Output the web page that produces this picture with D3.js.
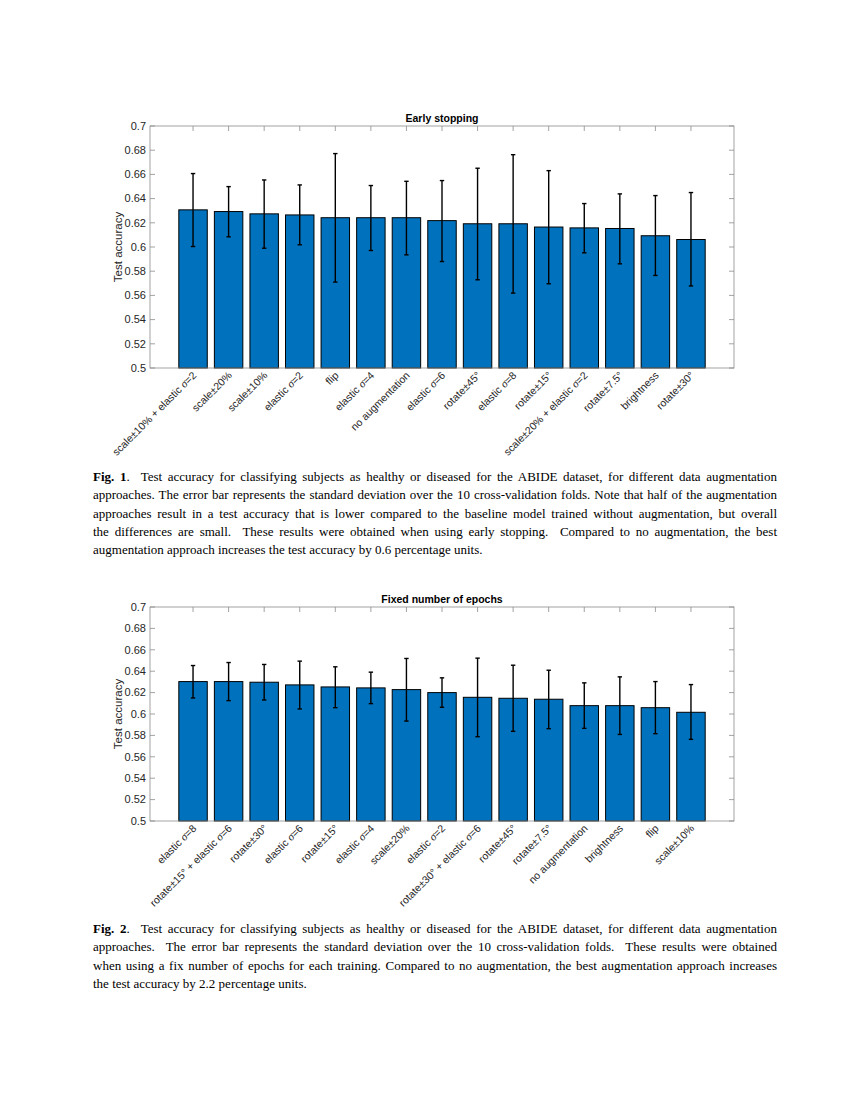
<!DOCTYPE html>
<html>
<head>
<meta charset="utf-8">
<script src="https://cdn.jsdelivr.net/npm/d3@7"></script>
<style>
  body { margin: 0; background: #fff; }
  svg { display: block; }
</style>
</head>
<body>
<svg id="page" width="850" height="1100"></svg>
<script>
// Fig. 1 - early stopping
const esLabels = ['scale±10% + elastic σ=2', 'scale±20%', 'scale±10%', 'elastic σ=2', 'flip',
    'elastic σ=4', 'no augmentation', 'elastic σ=6', 'rotate±45°', 'elastic σ=8', 'rotate±15°',
    'scale±20% + elastic σ=2', 'rotate±7.5°', 'brightness', 'rotate±30°'];
const esMean = [0.6307, 0.6293, 0.6274, 0.6265, 0.6242, 0.6242, 0.6242, 0.6218, 0.6192, 0.6192,
    0.6165, 0.6158, 0.6153, 0.6093, 0.6062];
const esUpper = [0.6607, 0.6499, 0.6554, 0.6513, 0.6772, 0.6508, 0.6543, 0.6549, 0.6651, 0.6763,
    0.6631, 0.6359, 0.6439, 0.6425, 0.6450];
const esLower = [0.6004, 0.6084, 0.5990, 0.6018, 0.5710, 0.5971, 0.5935, 0.5880, 0.5729, 0.5619,
    0.5696, 0.5952, 0.5861, 0.5765, 0.5678];

// Fig. 2 - fixed number of epochs
const feLabels = ['elastic σ=8', 'rotate±15° + elastic σ=6', 'rotate±30°', 'elastic σ=6', 'rotate±15°',
    'elastic σ=4', 'scale±20%', 'elastic σ=2', 'rotate±30° + elastic σ=6', 'rotate±45°', 'rotate±7.5°',
    'no augmentation', 'brightness', 'flip', 'scale±10%'];
const feMean = [0.6303, 0.6303, 0.6297, 0.6272, 0.6253, 0.6244, 0.6228, 0.6200, 0.6156, 0.6147,
    0.6138, 0.6078, 0.6078, 0.6059, 0.6016];
const feUpper = [0.6453, 0.6481, 0.6463, 0.6494, 0.6441, 0.6391, 0.6519, 0.6338, 0.6522, 0.6456,
    0.6409, 0.6291, 0.6347, 0.6303, 0.6275];
const feLower = [0.6150, 0.6125, 0.6131, 0.6047, 0.6059, 0.6097, 0.5934, 0.6063, 0.5788, 0.5838,
    0.5863, 0.5866, 0.5809, 0.5816, 0.5763];

const yTicks = [0.5, 0.52, 0.54, 0.56, 0.58, 0.6, 0.62, 0.64, 0.66, 0.68, 0.7];

const fig1Lines = [
    ['Fig. 1', '.  Test accuracy for classifying subjects as healthy or diseased for the ABIDE dataset, for different data augmentation'],
    ['', 'approaches. The error bar represents the standard deviation over the 10 cross-validation folds. Note that half of the augmentation'],
    ['', 'approaches result in a test accuracy that is lower compared to the baseline model trained without augmentation, but overall'],
    ['', 'the differences are small.  These results were obtained when using early stopping.  Compared to no augmentation, the best'],
    ['', 'augmentation approach increases the test accuracy by 0.6 percentage units.']
];
const fig2Lines = [
    ['Fig. 2', '.  Test accuracy for classifying subjects as healthy or diseased for the ABIDE dataset, for different data augmentation'],
    ['', 'approaches.  The error bar represents the standard deviation over the 10 cross-validation folds.  These results were obtained'],
    ['', 'when using a fix number of epochs for each training. Compared to no augmentation, the best augmentation approach increases'],
    ['', 'the test accuracy by 2.2 percentage units.']
];

const svg = d3.select('#page');
const sans = 'Helvetica, Arial, "Liberation Sans", sans-serif';
const serif = '"Times New Roman", "Liberation Serif", serif';
const axisColor = '#262626';

function drawChart(opts) {
    const left = 150, right = 734;
    const top = opts.top, bottom = opts.bottom;
    const n = opts.labels.length;

    const x = d3.scaleLinear().domain([-0.21, n + 1.21]).range([left, right]);
    const y = d3.scaleLinear().domain([0.5, 0.7]).range([bottom, top]);
    const barW = x(0.8) - x(0);

    const g = svg.append('g');

    // bars
    g.selectAll('rect.bar')
        .data(opts.mean)
        .enter()
        .append('rect')
        .attr('class', 'bar')
        .attr('x', (d, i) => x(i + 1) - barW / 2)
        .attr('y', d => y(d))
        .attr('width', barW)
        .attr('height', d => y(0.5) - y(d))
        .style('fill', '#0072BD')
        .style('stroke', '#000')
        .style('stroke-width', 1);

    // error bars
    const err = g.append('g')
        .selectAll('g')
        .data(opts.mean.map((m, i) => ({ i: i + 1, lo: opts.lower[i], hi: opts.upper[i] })))
        .enter()
        .append('g')
        .style('stroke', '#000')
        .style('stroke-width', 1.4);
    err.append('line')
        .attr('x1', d => x(d.i)).attr('x2', d => x(d.i))
        .attr('y1', d => y(d.lo)).attr('y2', d => y(d.hi));
    err.append('line')
        .attr('x1', d => x(d.i) - 2.2).attr('x2', d => x(d.i) + 2.2)
        .attr('y1', d => y(d.lo)).attr('y2', d => y(d.lo));
    err.append('line')
        .attr('x1', d => x(d.i) - 2.2).attr('x2', d => x(d.i) + 2.2)
        .attr('y1', d => y(d.hi)).attr('y2', d => y(d.hi));

    // box
    g.append('rect')
        .attr('x', left).attr('y', top)
        .attr('width', right - left).attr('height', bottom - top)
        .style('fill', 'none')
        .style('stroke', '#8c8c8c')
        .style('stroke-width', 0.8);

    // y ticks (inward, both sides)
    const tickLen = 5;
    const yt = g.append('g').selectAll('g').data(yTicks).enter().append('g');
    yt.append('line')
        .attr('x1', left).attr('x2', left + tickLen)
        .attr('y1', d => y(d)).attr('y2', d => y(d))
        .style('stroke', '#8c8c8c').style('stroke-width', 0.8);
    yt.append('line')
        .attr('x1', right).attr('x2', right - tickLen)
        .attr('y1', d => y(d)).attr('y2', d => y(d))
        .style('stroke', '#8c8c8c').style('stroke-width', 0.8);
    yt.append('text')
        .attr('x', left - 4)
        .attr('y', d => y(d) + 3.8)
        .attr('text-anchor', 'end')
        .style('font-family', sans)
        .style('font-size', '11px')
        .style('fill', axisColor)
        .text(d => d3.format('')(d));

    // x ticks (inward, top and bottom)
    const idx = d3.range(1, n + 1);
    const xt = g.append('g').selectAll('g').data(idx).enter().append('g');
    xt.append('line')
        .attr('x1', d => x(d)).attr('x2', d => x(d))
        .attr('y1', top).attr('y2', top + tickLen)
        .style('stroke', '#8c8c8c').style('stroke-width', 0.8);

    // x labels rotated 45 degrees
    const lbl = g.append('g').selectAll('text')
        .data(opts.labels)
        .enter()
        .append('text')
        .attr('text-anchor', 'end')
        .attr('transform', (d, i) => `translate(${x(i + 1) + 4},${bottom + 8}) rotate(-45)`)
        .style('font-family', sans)
        .style('font-size', '10.5px')
        .style('fill', axisColor);
    lbl.each(function(d) {
        const parts = d.split('σ');
        const t = d3.select(this);
        parts.forEach((p, k) => {
            if (k > 0) t.append('tspan').style('font-style', 'italic').style('font-family', serif).style('font-size', '11.5px').text('σ');
            t.append('tspan').text(p);
        });
    });

    // y label
    g.append('text')
        .attr('transform', `translate(${left - 28},${(top + bottom) / 2}) rotate(-90)`)
        .attr('text-anchor', 'middle')
        .style('font-family', sans)
        .style('font-size', '11.5px')
        .style('fill', axisColor)
        .text('Test accuracy');

    // title
    g.append('text')
        .attr('x', (left + right) / 2)
        .attr('y', top - 4)
        .attr('text-anchor', 'middle')
        .style('font-family', sans)
        .style('font-size', '10.5px')
        .style('font-weight', 'bold')
        .style('fill', '#000')
        .text(opts.title);
}

function drawCaption(lines, baseY) {
    const x0 = 93, x1 = 777, lh = 18.3;
    lines.forEach((ln, k) => {
        const t = svg.append('text')
            .attr('x', x0)
            .attr('y', baseY + k * lh)
            .style('font-family', serif)
            .style('font-size', '13px')
            .style('fill', '#000')
            .style('white-space', 'pre');
        if (ln[0]) t.append('tspan').style('font-weight', 'bold').text(ln[0]);
        t.append('tspan').text(ln[1]);
        // justify all lines but the last
        if (k < lines.length - 1) {
            const w = t.node().getComputedTextLength();
            const gaps = (ln[0] + ln[1]).split(' ').length - 1;
            if (gaps > 0) t.style('word-spacing', ((x1 - x0 - w) / gaps) + 'px');
        }
    });
}

drawChart({ top: 126, bottom: 368, labels: esLabels, mean: esMean, upper: esUpper, lower: esLower, title: 'Early stopping' });
drawChart({ top: 607, bottom: 821, labels: feLabels, mean: feMean, upper: feUpper, lower: feLower, title: 'Fixed number of epochs' });
drawCaption(fig1Lines, 481);
drawCaption(fig2Lines, 933);
</script>
</body>
</html>
